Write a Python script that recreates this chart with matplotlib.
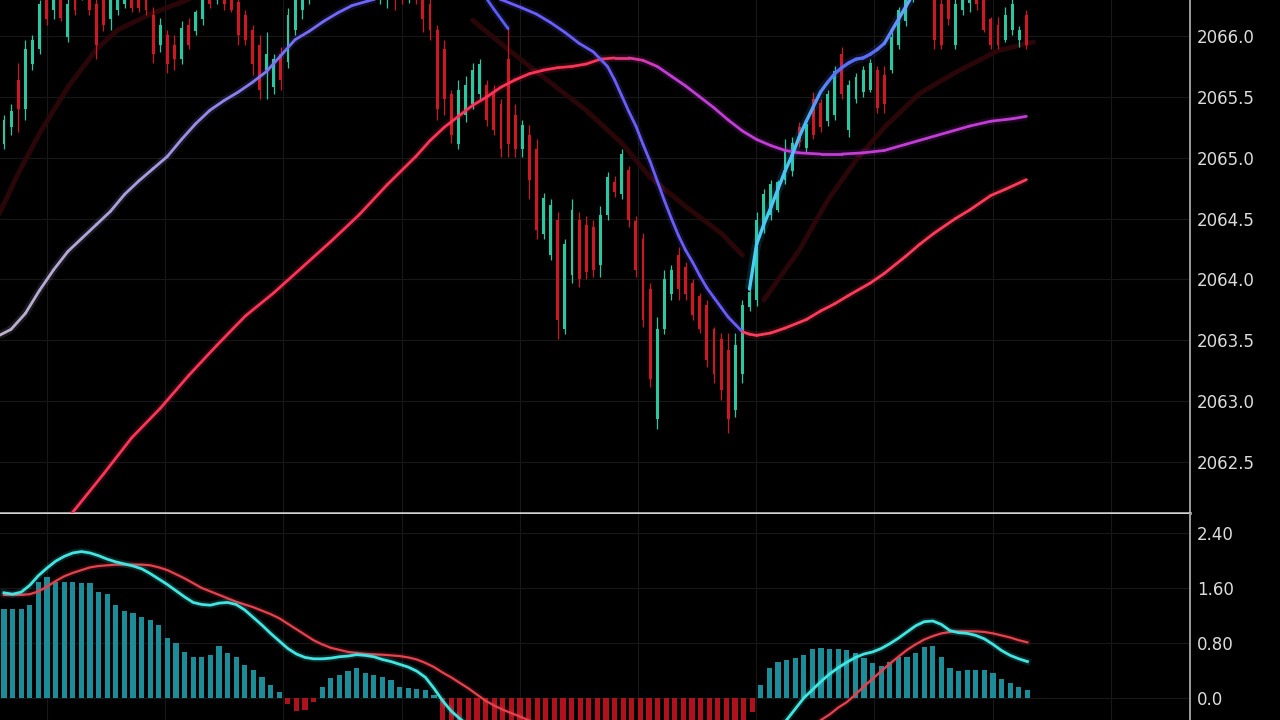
import numpy as np
import matplotlib
matplotlib.use("Agg")
import matplotlib.pyplot as plt
from matplotlib.collections import LineCollection
from matplotlib.colors import to_rgb

# ---- candles (one per bar) ----
o = [2065.11, 2065.25, 2065.64, 2065.40, 2065.77, 2065.89, 2066.30, 2066.21, 2066.34, 2065.99,
     2066.38, 2066.31, 2066.38, 2066.26, 2066.30, 2066.14, 2066.21, 2066.26, 2066.34, 2066.32,
     2066.34, 2066.17, 2065.93, 2066.01, 2065.93, 2065.81, 2066.09, 2066.04, 2066.14, 2066.42,
     2066.30, 2066.42, 2066.38, 2066.28, 2066.17, 2066.05, 2065.93, 2065.72, 2065.58, 2065.85,
     2065.79, 2066.05, 2066.21, 2066.30, 2066.46, 2066.34, 2066.42, 2066.59, 2066.46, 2066.50,
     2066.63, 2066.59, 2066.50, 2066.34, 2066.34, 2066.42, 2066.46, 2066.38, 2066.46, 2066.38,
     2066.26, 2066.05, 2065.89, 2065.52, 2065.11, 2065.35, 2065.44, 2065.52, 2065.60, 2065.52,
     2065.44, 2065.81, 2065.35, 2065.07, 2065.19, 2065.07, 2064.37, 2064.20, 2064.49, 2063.59,
     2064.04, 2064.49, 2064.45, 2064.43, 2064.12, 2064.53, 2064.80, 2064.70, 2064.90, 2064.48,
     2064.33, 2063.92, 2062.85, 2063.59, 2063.88, 2064.20, 2064.10, 2063.97, 2063.86, 2063.79,
     2063.59, 2063.51, 2063.42, 2062.93, 2063.22, 2063.77, 2063.83, 2064.43, 2064.53, 2064.57,
     2064.82, 2064.89, 2065.25, 2065.08, 2065.48, 2065.45, 2065.30, 2065.35, 2065.85, 2065.23,
     2065.48, 2065.54, 2065.56, 2065.72, 2065.68, 2065.72, 2065.93, 2066.12, 2066.32, 2066.50,
     2066.40, 2066.34, 2066.26, 2066.34, 2065.93, 2066.21, 2066.27, 2066.38, 2066.30, 2066.14,
     2066.09, 2065.97, 2066.05, 2065.97, 2066.17]
c = [2065.31, 2065.38, 2065.40, 2065.89, 2065.97, 2066.26, 2066.14, 2066.38, 2066.15, 2066.26,
     2066.21, 2066.42, 2066.21, 2065.93, 2066.09, 2066.30, 2066.34, 2066.38, 2066.23, 2066.23,
     2066.21, 2065.85, 2066.09, 2065.77, 2065.81, 2066.07, 2065.93, 2066.20, 2066.32, 2066.26,
     2066.46, 2066.26, 2066.21, 2066.01, 2065.97, 2065.77, 2065.56, 2065.85, 2065.81, 2065.64,
     2066.17, 2066.30, 2066.38, 2066.42, 2066.34, 2066.50, 2066.59, 2066.42, 2066.63, 2066.67,
     2066.50, 2066.42, 2066.38, 2066.42, 2066.46, 2066.31, 2066.34, 2066.50, 2066.34, 2066.14,
     2066.05, 2065.40, 2065.48, 2065.19, 2065.56, 2065.60, 2065.72, 2065.77, 2065.31, 2065.23,
     2065.07, 2065.11, 2065.07, 2065.27, 2064.82, 2064.41, 2064.67, 2064.61, 2063.67, 2064.29,
     2064.57, 2064.00, 2064.06, 2064.08, 2064.53, 2064.84, 2064.72, 2065.03, 2064.49, 2064.08,
     2063.67, 2063.18, 2063.59, 2064.00, 2064.08, 2063.92, 2063.88, 2063.71, 2063.59, 2063.34,
     2063.22, 2063.09, 2062.85, 2063.46, 2063.79, 2063.90, 2064.49, 2064.70, 2064.78, 2064.80,
     2065.07, 2065.12, 2065.13, 2065.28, 2065.19, 2065.25, 2065.52, 2065.71, 2065.52, 2065.60,
     2065.66, 2065.72, 2065.78, 2065.41, 2065.44, 2065.99, 2066.21, 2066.34, 2066.46, 2066.38,
     2066.55, 2065.97, 2065.93, 2066.14, 2066.26, 2066.38, 2066.32, 2066.26, 2066.05, 2065.93,
     2065.93, 2066.17, 2066.26, 2066.05, 2065.93]
h = [2065.35, 2065.44, 2065.78, 2065.97, 2066.01, 2066.30, 2066.38, 2066.42, 2066.40, 2066.34,
     2066.46, 2066.46, 2066.42, 2066.34, 2066.37, 2066.37, 2066.42, 2066.42, 2066.38, 2066.38,
     2066.38, 2066.24, 2066.15, 2066.05, 2066.01, 2066.12, 2066.15, 2066.21, 2066.38, 2066.46,
     2066.50, 2066.46, 2066.42, 2066.34, 2066.21, 2066.09, 2066.01, 2066.03, 2065.85, 2065.91,
     2066.23, 2066.38, 2066.42, 2066.46, 2066.50, 2066.55, 2066.63, 2066.63, 2066.67, 2066.71,
     2066.67, 2066.63, 2066.55, 2066.46, 2066.50, 2066.46, 2066.50, 2066.55, 2066.50, 2066.42,
     2066.34, 2066.09, 2065.97, 2065.56, 2065.64, 2065.67, 2065.78, 2065.81, 2065.64, 2065.60,
     2065.48, 2066.08, 2065.44, 2065.31, 2065.27, 2065.15, 2064.71, 2064.66, 2064.55, 2064.33,
     2064.66, 2064.55, 2064.52, 2064.49, 2064.60, 2064.88, 2064.85, 2065.07, 2064.93, 2064.52,
     2064.38, 2063.97, 2063.69, 2064.08, 2064.12, 2064.27, 2064.14, 2064.00, 2063.89, 2063.83,
     2063.61, 2063.56, 2063.56, 2063.56, 2063.83, 2063.93, 2064.55, 2064.74, 2064.82, 2064.82,
     2065.15, 2065.17, 2065.29, 2065.31, 2065.54, 2065.48, 2065.56, 2065.75, 2065.91, 2065.64,
     2065.70, 2065.75, 2065.81, 2065.75, 2065.75, 2066.03, 2066.24, 2066.38, 2066.50, 2066.55,
     2066.59, 2066.38, 2066.34, 2066.38, 2066.34, 2066.42, 2066.37, 2066.42, 2066.34, 2066.16,
     2066.16, 2066.24, 2066.31, 2066.08, 2066.21]
l = [2065.07, 2065.19, 2065.21, 2065.31, 2065.72, 2065.85, 2066.09, 2066.14, 2066.12, 2065.95,
     2066.17, 2066.30, 2066.17, 2065.81, 2066.04, 2066.05, 2066.17, 2066.23, 2066.20, 2066.20,
     2066.17, 2065.78, 2065.87, 2065.70, 2065.72, 2065.77, 2065.89, 2066.01, 2066.09, 2066.23,
     2066.26, 2066.21, 2066.20, 2065.93, 2065.93, 2065.68, 2065.48, 2065.48, 2065.52, 2065.56,
     2065.74, 2066.01, 2066.14, 2066.26, 2066.32, 2066.32, 2066.38, 2066.38, 2066.42, 2066.46,
     2066.46, 2066.37, 2066.30, 2066.26, 2066.23, 2066.21, 2066.26, 2066.27, 2066.26, 2066.03,
     2065.97, 2065.31, 2065.35, 2065.12, 2065.07, 2065.29, 2065.40, 2065.48, 2065.26, 2065.19,
     2065.01, 2065.01, 2065.01, 2065.01, 2064.66, 2064.33, 2064.33, 2064.16, 2063.51, 2063.55,
     2063.97, 2063.94, 2064.00, 2064.02, 2064.02, 2064.49, 2064.68, 2064.66, 2064.43, 2064.02,
     2063.61, 2063.12, 2062.77, 2063.55, 2063.83, 2063.83, 2063.83, 2063.67, 2063.56, 2063.28,
     2063.15, 2063.01, 2062.74, 2062.87, 2063.15, 2063.74, 2063.78, 2064.38, 2064.49, 2064.55,
     2064.78, 2064.85, 2065.09, 2065.04, 2065.15, 2065.21, 2065.26, 2065.31, 2065.48, 2065.17,
     2065.45, 2065.50, 2065.54, 2065.37, 2065.37, 2065.70, 2065.89, 2066.08, 2066.28, 2066.32,
     2066.37, 2065.89, 2065.89, 2066.09, 2065.89, 2066.17, 2066.20, 2066.21, 2066.03, 2065.89,
     2065.89, 2065.95, 2066.01, 2065.91, 2065.89]

# ---- moving averages (bar index, price) ----
ma_mid_x = [-1, 1, 3, 5, 7, 9, 11, 13, 15, 17, 19, 21, 23, 25, 27, 29, 31, 33, 35, 37, 39, 41, 43,
            45, 47, 49, 52, 56, 60, 64, 68, 70, 73, 75, 77, 79, 81, 83, 85, 86, 87, 88, 89, 90, 91,
            92, 93, 94, 95, 96, 97, 98, 99, 100, 101, 102, 103, 104, 105, 106, 108, 110, 113, 115,
            117, 119, 122, 124, 127, 129, 131, 134, 136, 139, 141, 144]
ma_mid_y = [2063.53, 2063.59, 2063.72, 2063.91, 2064.08, 2064.23, 2064.34, 2064.45, 2064.56, 2064.70,
            2064.81, 2064.91, 2065.01, 2065.15, 2065.28, 2065.39, 2065.47, 2065.54, 2065.62, 2065.71,
            2065.84, 2065.97, 2066.04, 2066.12, 2066.19, 2066.25, 2066.30, 2066.36, 2066.40, 2066.40,
            2066.34, 2066.30, 2066.23, 2066.18, 2066.11, 2066.03, 2065.94, 2065.87, 2065.75, 2065.64,
            2065.51, 2065.38, 2065.26, 2065.11, 2064.97, 2064.81, 2064.65, 2064.50, 2064.36, 2064.24,
            2064.14, 2064.03, 2063.93, 2063.85, 2063.77, 2063.69, 2063.63, 2063.57, 2063.55, 2063.54,
            2063.56, 2063.60, 2063.67, 2063.74, 2063.80, 2063.87, 2063.97, 2064.05, 2064.19, 2064.29,
            2064.38, 2064.50, 2064.57, 2064.69, 2064.74, 2064.82]
ma_slow_x = [9, 10, 14, 18, 22, 26, 30, 34, 38, 42, 46, 50, 54, 58, 60, 62, 64, 66, 68, 70, 72, 74,
             76, 78, 80, 82, 84, 86, 88, 90, 92, 94, 96, 98, 100, 102, 104, 106, 108, 110, 112, 115,
             118, 121, 124, 127, 130, 133, 136, 139, 142, 144]
ma_slow_y = [2062.04, 2062.11, 2062.40, 2062.70, 2062.94, 2063.21, 2063.46, 2063.70, 2063.89, 2064.10,
             2064.31, 2064.53, 2064.78, 2065.01, 2065.14, 2065.25, 2065.34, 2065.43, 2065.50, 2065.58,
             2065.64, 2065.69, 2065.72, 2065.74, 2065.75, 2065.77, 2065.81, 2065.82, 2065.82, 2065.80,
             2065.75, 2065.67, 2065.59, 2065.50, 2065.41, 2065.31, 2065.22, 2065.15, 2065.10, 2065.06,
             2065.04, 2065.03, 2065.03, 2065.04, 2065.06, 2065.11, 2065.16, 2065.21, 2065.26, 2065.30,
             2065.32, 2065.34]
ma_fast_x = [105, 106, 107, 108, 109, 110, 111, 112, 113, 114, 115, 116, 117, 118, 119, 120, 121,
             122, 123, 124, 125, 126, 127, 128]
ma_fast_y = [2063.92, 2064.29, 2064.45, 2064.59, 2064.74, 2064.89, 2065.02, 2065.17, 2065.30, 2065.42,
             2065.54, 2065.62, 2065.69, 2065.74, 2065.78, 2065.81, 2065.82, 2065.85, 2065.89, 2065.94,
             2066.04, 2066.14, 2066.24, 2066.34]
fast_tail_x = [67, 69, 71]
fast_tail_y = [2066.39, 2066.22, 2066.06]
shadow_a_x = [-1, 2, 5, 9, 13, 16, 21, 26]
shadow_a_y = [2064.50, 2064.87, 2065.20, 2065.58, 2065.89, 2066.05, 2066.19, 2066.30]
shadow_b_x = [66, 71, 76, 82, 87, 91, 96, 101, 104]
shadow_b_y = [2066.13, 2065.89, 2065.66, 2065.39, 2065.12, 2064.84, 2064.60, 2064.38, 2064.20]
shadow_c_x = [107, 112, 116, 120, 124, 129, 134, 140, 145]
shadow_c_y = [2063.83, 2064.24, 2064.65, 2064.98, 2065.25, 2065.53, 2065.70, 2065.88, 2065.95]

price_ticks = [2066.0, 2065.5, 2065.0, 2064.5, 2064.0, 2063.5, 2063.0, 2062.5]

# ---- MACD ----
hist = [1.30, 1.30, 1.30, 1.35, 1.69, 1.76, 1.69, 1.69, 1.69, 1.68, 1.68, 1.54, 1.51, 1.35, 1.26,
        1.23, 1.18, 1.13, 1.06, 0.88, 0.80, 0.67, 0.60, 0.59, 0.63, 0.75, 0.65, 0.60, 0.48, 0.41,
        0.31, 0.19, 0.09, -0.08, -0.19, -0.17, -0.06, 0.16, 0.29, 0.34, 0.39, 0.43, 0.37, 0.34,
        0.31, 0.26, 0.16, 0.15, 0.13, 0.12, 0.05, -0.35, -0.42, -0.50, -0.58, -0.66, -0.74, -0.80,
        -0.86, -0.90, -0.93, -0.95, -0.96, -0.96, -0.95, -0.93, -0.90, -0.86, -0.82, -0.78, -0.74,
        -0.70, -0.66, -0.62, -0.58, -0.55, -0.52, -0.50, -0.48, -0.46, -0.45, -0.44, -0.43, -0.42,
        -0.41, -0.40, -0.38, -0.20, 0.19, 0.43, 0.53, 0.55, 0.58, 0.63, 0.71, 0.73, 0.72, 0.71,
        0.70, 0.65, 0.58, 0.51, 0.46, 0.53, 0.60, 0.60, 0.65, 0.74, 0.76, 0.60, 0.43, 0.39, 0.41,
        0.41, 0.41, 0.36, 0.28, 0.22, 0.16, 0.12]
dif_a_x = list(range(0, 55))
dif_a_y = [1.53, 1.51, 1.54, 1.64, 1.78, 1.89, 1.99, 2.06, 2.11, 2.13, 2.11, 2.07, 2.02, 1.98, 1.95,
           1.92, 1.88, 1.81, 1.73, 1.65, 1.56, 1.47, 1.39, 1.36, 1.35, 1.38, 1.39, 1.36, 1.28, 1.17,
           1.06, 0.94, 0.83, 0.72, 0.64, 0.59, 0.57, 0.57, 0.58, 0.60, 0.61, 0.63, 0.62, 0.60, 0.56,
           0.53, 0.49, 0.45, 0.39, 0.30, 0.14, -0.04, -0.19, -0.30, -0.40]
dif_b_x = list(range(90, 120))
dif_b_y = [-0.45, -0.32, -0.16, 0.00, 0.12, 0.24, 0.35, 0.44, 0.52, 0.59, 0.64, 0.67, 0.72, 0.79,
           0.87, 0.96, 1.05, 1.11, 1.12, 1.07, 0.98, 0.95, 0.94, 0.91, 0.86, 0.78, 0.69, 0.62, 0.57,
           0.53]
dea_a_x = list(range(0, 41)) + [42, 44, 46, 47, 48, 49, 50, 51, 52, 53, 54, 55, 56, 57, 58, 59, 60, 62]
dea_a_y = [1.50, 1.50, 1.50, 1.51, 1.55, 1.62, 1.70, 1.77, 1.82, 1.86, 1.90, 1.92, 1.93, 1.94, 1.94,
           1.94, 1.94, 1.93, 1.90, 1.86, 1.80, 1.74, 1.67, 1.60, 1.55, 1.50, 1.45, 1.40, 1.36, 1.32,
           1.27, 1.22, 1.16, 1.08, 1.00, 0.92, 0.84, 0.78, 0.73, 0.70, 0.67, 0.64, 0.63, 0.61, 0.59,
           0.56, 0.51, 0.45, 0.37, 0.30, 0.22, 0.14, 0.05, -0.04, -0.11, -0.17, -0.22, -0.27, -0.38]
dea_b_x = list(range(94, 120))
dea_b_y = [-0.45, -0.32, -0.24, -0.14, -0.06, 0.05, 0.17, 0.28, 0.39, 0.50, 0.60, 0.70, 0.78, 0.85,
           0.90, 0.94, 0.96, 0.97, 0.97, 0.97, 0.96, 0.94, 0.91, 0.88, 0.84, 0.81]
macd_ticks = [0.0, 0.8, 1.6, 2.4]
macd_labels = ['0.0', '0.80', '1.60', '2.40']

BG = '#000000'
UP, DOWN = '#28c9a2', '#cf1724'


def gradline(ax, x, y, stops, lw=2.0, glow=True):
    x = np.asarray(x, float)
    y = np.asarray(y, float)
    pts = np.column_stack([x, y]).reshape(-1, 1, 2)
    segs = np.concatenate([pts[:-1], pts[1:]], axis=1)
    mid = (x[:-1] + x[1:]) / 2
    sx = [s[0] for s in stops]
    rgb = np.array([to_rgb(s[1]) for s in stops])
    cols = np.column_stack([np.interp(mid, sx, rgb[:, k]) for k in range(3)])
    if glow:
        ax.add_collection(LineCollection(segs, colors=cols, linewidths=lw * 2.8, alpha=0.14,
                                         capstyle='butt', zorder=4))
    ax.add_collection(LineCollection(segs, colors=cols, linewidths=lw, capstyle='round',
                                     joinstyle='round', zorder=5))


fig = plt.figure(figsize=(12.8, 7.2), dpi=100, facecolor=BG)
W = 1190 / 1280
ax = fig.add_axes([0, 207 / 720, W, 513 / 720], facecolor=BG)
ax2 = fig.add_axes([0, 0, W, 206 / 720], facecolor=BG)

# bar spacing in pixels: candles 7.1px, macd bars 8.6px, both starting at x=4px
cx0, cdx = 4, 7.1
mx0, mdx = 4, 8.6
grid_px = 47 + 118.2 * np.arange(10)

# ---- price panel ----
n = len(o)
xs = np.arange(n)
oa, ca, ha, la = map(np.array, (o, c, h, l))
cols = np.where(ca >= oa, UP, DOWN)
ax.vlines(xs, la, ha, colors=cols, linewidth=0.9, zorder=2)
ax.bar(xs, np.abs(ca - oa), bottom=np.minimum(oa, ca), width=0.42, color=cols, zorder=2)

for sx_, sy_ in [(shadow_a_x, shadow_a_y), (shadow_b_x, shadow_b_y), (shadow_c_x, shadow_c_y)]:
    ax.plot(sx_, sy_, color='#300709', lw=3.5, alpha=0.9, zorder=1, solid_capstyle='round')

gradline(ax, ma_slow_x, ma_slow_y, [(0, '#ff3358'), (84, '#ff3358'), (93, '#c23cd6'), (150, '#c23cd6')], lw=2.0)
gradline(ax, ma_mid_x, ma_mid_y, [(0, '#bcb0cc'), (20, '#a89ce0'), (40, '#7a70f5'), (55, '#6a60ff'),
                                  (103.5, '#6a5cf8'), (104.5, '#ff3a5a'), (150, '#ff3a5a')], lw=2.0)
gradline(ax, ma_fast_x, ma_fast_y, [(105, '#48d0f5'), (112, '#4cc0f8'), (117, '#5a70f5'),
                                    (123, '#5a6cf5'), (127, '#6aa8ff')], lw=2.4)
gradline(ax, fast_tail_x, fast_tail_y, [(0, '#5a5cf8'), (150, '#5a5cf8')], lw=2.0)

ax.set_xlim(-cx0 / cdx, (1190 - cx0) / cdx)
ax.set_ylim(2066.296 - 513 / 121.7, 2066.296)
ax.set_xticks((grid_px - cx0) / cdx)
ax.set_yticks(price_ticks)
ax.set_yticklabels([f'{t:.1f}' for t in price_ticks])

# ---- MACD panel ----
ha2 = np.array(hist)
hcols = np.where(ha2 >= 0, '#1b8c98', '#b0111d')
ax2.bar(np.arange(len(hist)), ha2, width=0.62, color=hcols, zorder=2)
for xx, yy in [(dea_a_x, dea_a_y), (dea_b_x, dea_b_y)]:
    ax2.plot(xx, yy, color='#e8414e', lw=4.5, alpha=0.15, zorder=3)
    ax2.plot(xx, yy, color='#e8414e', lw=1.6, zorder=4, solid_joinstyle='round')
for xx, yy in [(dif_a_x, dif_a_y), (dif_b_x, dif_b_y)]:
    ax2.plot(xx, yy, color='#3fe6e2', lw=5, alpha=0.15, zorder=5)
    ax2.plot(xx, yy, color='#3fe6e2', lw=2.0, zorder=6, solid_joinstyle='round')

ax2.set_xlim(-mx0 / mdx, (1190 - mx0) / mdx)
ax2.set_ylim(-22 / 68.75, 184 / 68.75)
ax2.set_xticks((grid_px - mx0) / mdx)
ax2.set_yticks(macd_ticks)
ax2.set_yticklabels(macd_labels)

for a in (ax, ax2):
    a.grid(True, color='#171717', lw=0.8, zorder=0)
    a.set_axisbelow(True)
    a.yaxis.tick_right()
    a.tick_params(axis='y', length=0, pad=5, labelsize=12, labelcolor='#dcdcdc')
    a.tick_params(axis='x', length=0, labelbottom=False)
    for s in ('top', 'left', 'bottom'):
        a.spines[s].set_visible(False)
    a.spines['right'].set_color('#9c9c9c')
    a.spines['right'].set_linewidth(1.4)

ax.spines['bottom'].set_visible(True)
ax.spines['bottom'].set_color('#d2d2d2')
ax.spines['bottom'].set_linewidth(1.8)

fig.savefig('out.png', dpi=100, facecolor=BG)
